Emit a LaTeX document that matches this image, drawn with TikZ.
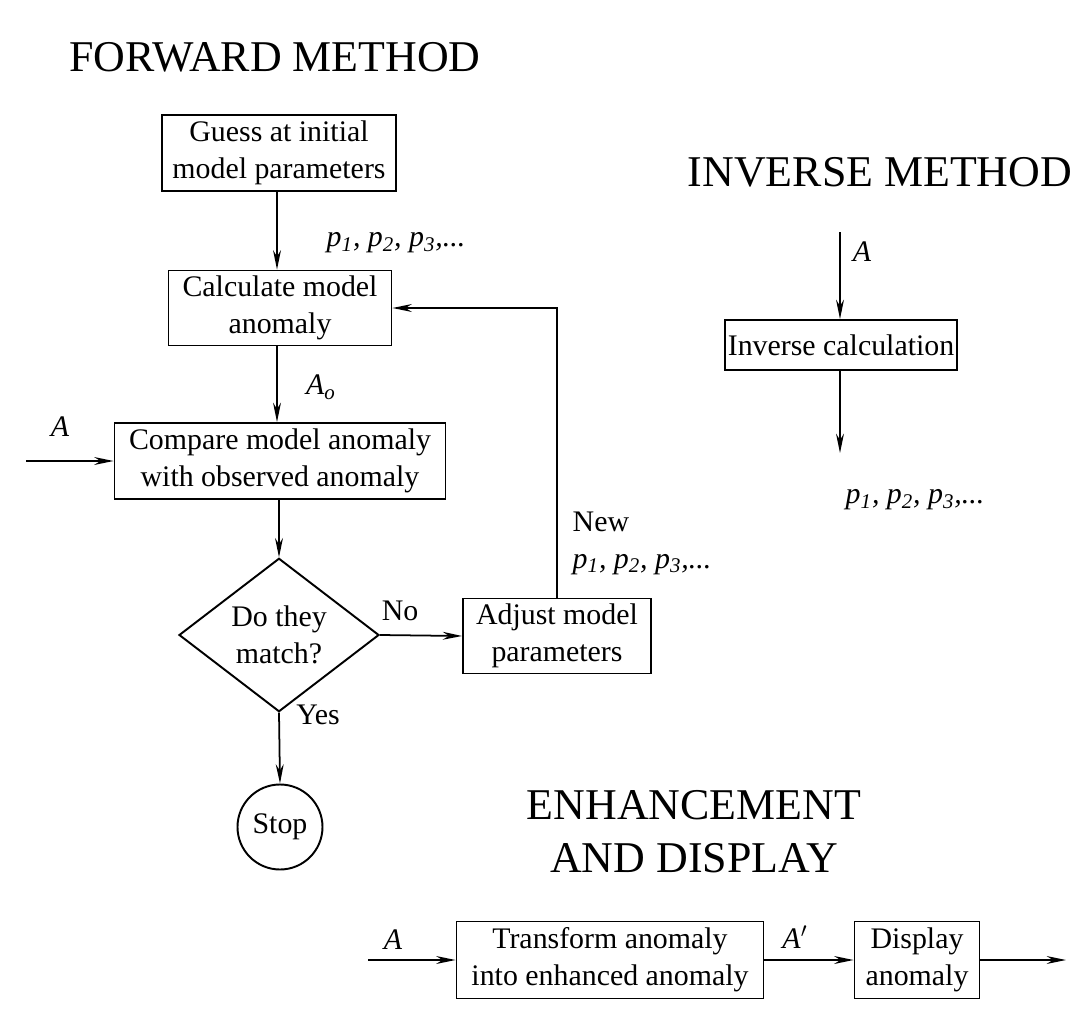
\documentclass[tikz,border=0pt]{standalone}
\usepackage{fontspec}
\setmainfont{Liberation Serif}
\usetikzlibrary{arrows.meta,shapes.geometric}
\newcommand{\plist}{\textit{p\textsubscript{1}, p\textsubscript{2}, p\textsubscript{3},...}}
\begin{document}
\begin{tikzpicture}[x=0.02cm,y=-0.02cm,
  box/.style={draw,line width=1.1pt,align=center,font=\fontsize{17}{21}\selectfont,inner sep=0pt},
  arr/.style={line width=1pt,-{Stealth[length=11pt,width=4.5pt]}},
  lbl/.style={font=\fontsize{17}{21}\selectfont},
  ttl/.style={font=\fontsize{25}{30}\selectfont,align=center}]
\useasboundingbox (0,0) rectangle (1079,1017);
\node[ttl] (t1) at (275,57) {FORWARD METHOD};
\node[box,minimum width=234*0.02cm,minimum height=76*0.02cm] (b1) at (279,153) {Guess at initial\\model parameters};
\node[box,minimum width=223*0.02cm,minimum height=75*0.02cm] (b2) at (280,308) {Calculate model\\anomaly};
\node[box,minimum width=331*0.02cm,minimum height=76*0.02cm] (b3) at (280,461) {Compare model anomaly\\with observed anomaly};
\node[draw,line width=1.1pt,diamond,inner sep=0pt,minimum width=200*0.02cm,minimum height=116*0.02cm,align=center,font=\fontsize{17}{21}\selectfont] (d) at (279,635) {Do they\\match?};
\node[box,minimum width=188*0.02cm,minimum height=75*0.02cm] (b4) at (557,636) {Adjust model\\parameters};
\node[draw,circle,line width=1.1pt,minimum size=85*0.02cm,inner sep=0pt,font=\fontsize{17}{21}\selectfont] (stop) at (280,827) {Stop};
\coordinate (ain) at (26,461);
\coordinate (corner) at (557,308);
\draw[arr] (b1.south -| 277,0) -- (b2.north -| 277,0);
\draw[arr] (b2.south -| 277,0) -- (b3.north -| 277,0);
\draw[arr] (ain) -- (b3.west |- ain);
\draw[arr] (b3.south -| 279,0) -- (d.north);
\draw[arr] (d.east) -- (b4.west);
\draw[arr] (d.south) -- (stop.north);
\draw[arr] (b4.north) -- (corner) -- (b2.east |- corner);
\node[lbl] (l1) at (396,243) {\plist};
\node[lbl] (l2) at (321,387) {\textit{A\textsubscript{o}}};
\node[lbl] (l3) at (60,427) {\textit{A}};
\node[lbl] (l4) at (400,611) {No};
\node[lbl] (l5) at (318,715) {Yes};
\node[lbl,align=left] (l6) at (642,543) {New\\\plist};
\node[ttl] (t2) at (880,172) {INVERSE METHOD};
\node[box,minimum width=232*0.02cm,minimum height=50*0.02cm] (ib) at (841,345) {Inverse calculation};
\coordinate (itop) at (840,232);
\coordinate (ibot) at (840,453);
\draw[arr] (itop) -- (ib.north -| itop);
\draw[arr] (ib.south -| itop) -- (ibot);
\node[lbl] (l7) at (862,252) {\textit{A}};
\node[lbl] (l8) at (915,500) {\plist};
\node[ttl] (t3) at (694,832) {ENHANCEMENT\\AND DISPLAY};
\node[box,minimum width=307*0.02cm,minimum height=77*0.02cm] (e1) at (610,960) {Transform anomaly\\into enhanced anomaly};
\node[box,minimum width=125*0.02cm,minimum height=77*0.02cm] (e2) at (917,960) {Display\\anomaly};
\coordinate (ein) at (368,960);
\coordinate (eout) at (1066,960);
\draw[arr] (ein) -- (e1.west);
\draw[arr] (e1.east) -- (e2.west);
\draw[arr] (e2.east) -- (eout);
\node[lbl] (l9) at (393,940) {\textit{A}};
\node[lbl] (l10) at (795,937) {\textit{A}$'$};
\end{tikzpicture}
\end{document}
